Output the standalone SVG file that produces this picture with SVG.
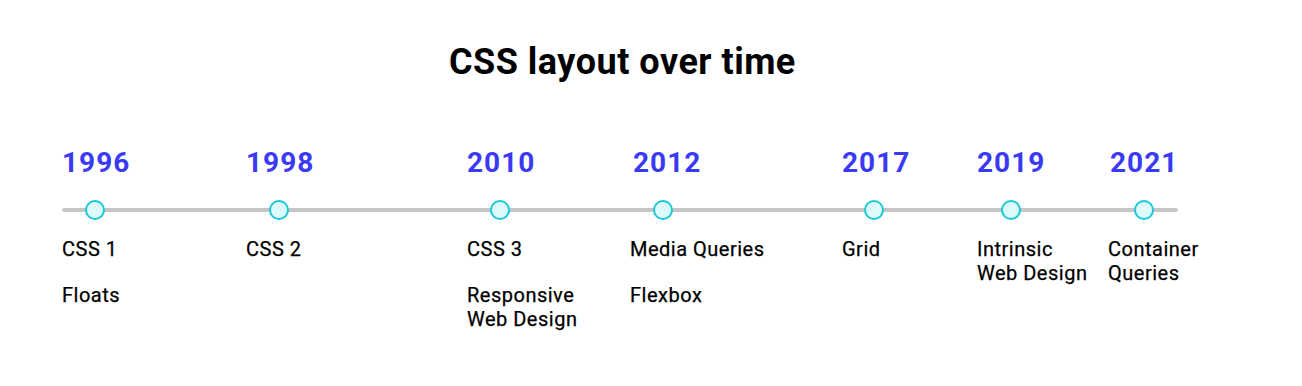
<svg xmlns="http://www.w3.org/2000/svg" width="1302" height="386" viewBox="0 0 1302 386">
<style>
.title{font-family:Roboto,"Liberation Sans",sans-serif;font-weight:700;font-size:36px;fill:#000;letter-spacing:0.5px}
.year{font-family:Roboto,"Liberation Sans",sans-serif;font-weight:700;font-size:28px;fill:#3a3af4;letter-spacing:1px}
.lbl{font-family:Roboto,"Liberation Sans",sans-serif;font-weight:400;font-size:20px;fill:#000;letter-spacing:0.5px;stroke:#000;stroke-width:0.25px}
.dot{fill:#dffafc;stroke:#1ac9d8;stroke-width:2}
</style>
<rect width="1302" height="386" fill="#fff"/>
<text class="title" x="449" y="74">CSS layout over time</text>
<g id="connectors">
<line x1="64" y1="210" x2="1176" y2="210" stroke="#c6c6c6" stroke-width="4" stroke-linecap="round"/>
</g>
<g id="n1996">
<circle class="dot" cx="95" cy="210" r="9"/>
<text class="year" x="62" y="172">1996</text>
<text class="lbl" x="62" y="256">CSS 1</text>
<text class="lbl" x="62" y="302">Floats</text>
</g>
<g id="n1998">
<circle class="dot" cx="279" cy="210" r="9"/>
<text class="year" x="246" y="172">1998</text>
<text class="lbl" x="246" y="256">CSS 2</text>
</g>
<g id="n2010">
<circle class="dot" cx="500" cy="210" r="9"/>
<text class="year" x="467" y="172">2010</text>
<text class="lbl" x="467" y="256">CSS 3</text>
<text class="lbl" x="467" y="302">Responsive</text>
<text class="lbl" x="467" y="326">Web Design</text>
</g>
<g id="n2012">
<circle class="dot" cx="663" cy="210" r="9"/>
<text class="year" x="633" y="172">2012</text>
<text class="lbl" x="630" y="256">Media Queries</text>
<text class="lbl" x="630" y="302">Flexbox</text>
</g>
<g id="n2017">
<circle class="dot" cx="874" cy="210" r="9"/>
<text class="year" x="842" y="172">2017</text>
<text class="lbl" x="842" y="256">Grid</text>
</g>
<g id="n2019">
<circle class="dot" cx="1011" cy="210" r="9"/>
<text class="year" x="977" y="172">2019</text>
<text class="lbl" x="977" y="256">Intrinsic</text>
<text class="lbl" x="977" y="280">Web Design</text>
</g>
<g id="n2021">
<circle class="dot" cx="1144" cy="210" r="9"/>
<text class="year" x="1110" y="172">2021</text>
<text class="lbl" x="1108" y="256">Container</text>
<text class="lbl" x="1108" y="280">Queries</text>
</g>
</svg>
